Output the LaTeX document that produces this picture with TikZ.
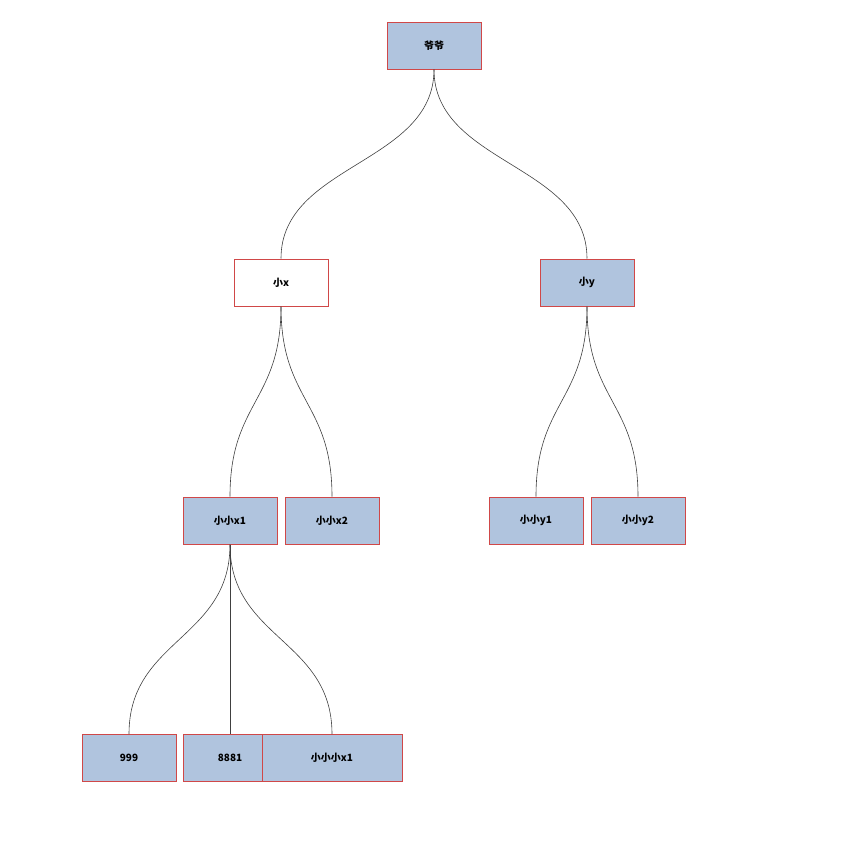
\documentclass[tikz,border=0pt]{standalone}
\usepackage{fontspec}
\usetikzlibrary{calc}
\newfontfamily\cjk{Noto Sans CJK SC}
\definecolor{boxfill}{HTML}{B0C4DE}
\definecolor{boxline}{HTML}{D04848}
\begin{document}
\begin{tikzpicture}[x=1pt,y=-1pt,
  box/.style={draw=boxline,line width=1pt,fill=boxfill,minimum width=94pt,minimum height=47pt,inner sep=0pt,font=\cjk\bfseries\fontsize{10}{12}\selectfont},
  link/.style={draw=black!75,line width=0.6pt}]
\useasboundingbox (0,0) rectangle (851,855);
\node[box] (r) at (434,45.5) {爷爷};
\node[box,fill=white] (x) at (281,282.5) {小x};
\node[box] (y) at (587,282.5) {小y};
\node[box] (x1) at (230,520.5) {小小x1};
\node[box] (x2) at (332,520.5) {小小x2};
\node[box] (y1) at (536,520.5) {小小y1};
\node[box] (y2) at (638,520.5) {小小y2};
\node[box] (a) at (129,758) {999};
\node[box] (b) at (230,758) {8881};
\node[box,minimum width=140pt] (c) at (332,758) {小小小x1};
\foreach \pa/\ch in {r/x,r/y,x/x1,x/x2,y/y1,y/y2,x1/a,x1/c}
  \draw[link] (\pa.south) .. controls ($(\pa.south)!0.5!(\pa.south|-\ch.north)$) and ($(\ch.north)!0.5!(\ch.north|-\pa.south)$) .. (\ch.north);
\draw[link] (x1.south) -- (b.north);
\end{tikzpicture}
\end{document}
